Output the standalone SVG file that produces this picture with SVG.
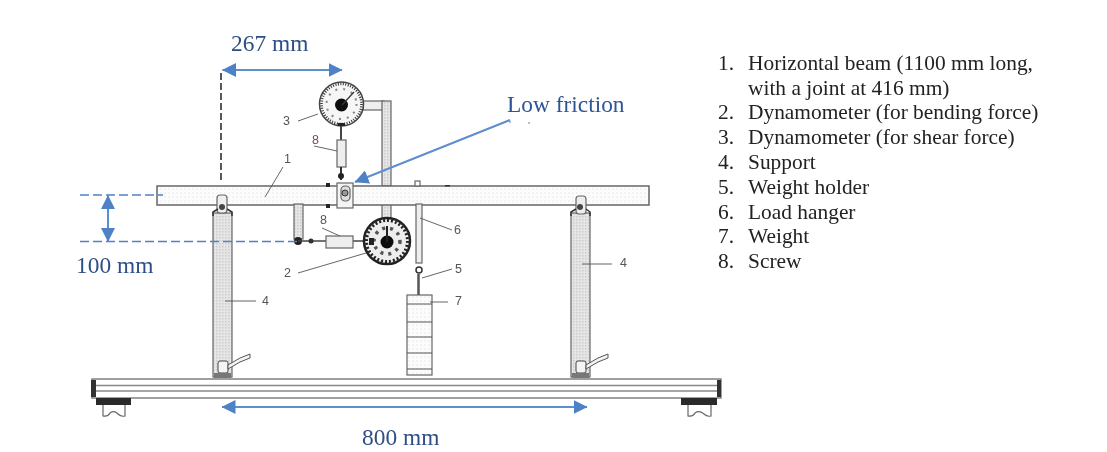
<svg xmlns="http://www.w3.org/2000/svg" width="1107" height="452" viewBox="0 0 1107 452">
<defs>
<pattern id="mesh" width="3" height="3" patternUnits="userSpaceOnUse"><rect width="3" height="3" fill="#e6e6e6"/><rect width="1.500" height="1.500" fill="#cdcdcd"/></pattern>
<pattern id="lite" width="4" height="4" patternUnits="userSpaceOnUse"><rect width="4" height="4" fill="#fcfcfc"/><rect width="2" height="2" fill="#f3f3f3"/></pattern>
<marker id="ah" viewBox="0 0 14 14" refX="13.500" refY="7" markerWidth="14" markerHeight="14" markerUnits="userSpaceOnUse" orient="auto-start-reverse"><path d="M0 0L14 7L0 14Z" fill="#4f81c7"/></marker>
<filter id="soft" x="-5%" y="-5%" width="110%" height="110%"><feGaussianBlur stdDeviation="0.6"/></filter>
<filter id="soft2" x="-5%" y="-5%" width="110%" height="110%"><feGaussianBlur stdDeviation="0.3"/></filter>
</defs>
<style>
.ser{font-family:"Liberation Serif","Times New Roman",serif;}
.list{font-size:21.4px;fill:#222;}
.dim{font-size:23.4px;fill:#2f4f85;}
.num{font-family:"Liberation Sans",Arial,sans-serif;font-size:12.5px;fill:#555;}
.ol{stroke:#666;stroke-width:1.2;fill:none;}
.lead{stroke:#555;stroke-width:.9;fill:none;}
.part{stroke:#666;stroke-width:1.2;}
.blue{stroke:#5b8fd0;stroke-width:2;fill:none;}
.dash{stroke:#4f81c7;stroke-width:1.400;stroke-dasharray:9 4;fill:none;}
</style>
<rect width="1107" height="452" fill="#fff"/>
<g id="apparatus" filter="url(#soft)">
<g id="column-shear">
<rect x="363" y="101" width="21" height="9" fill="#eee" class="part"/>
<rect x="382" y="101" width="9" height="85" fill="url(#mesh)" class="part"/>
<rect x="382" y="204" width="9" height="14" fill="url(#mesh)" class="part"/>
</g>
<g id="beam">
<rect x="157" y="186" width="492" height="19" fill="url(#lite)" stroke="#666" stroke-width="1.500"/>
<rect x="415" y="181" width="5" height="5" fill="#fff" class="part"/>
<rect x="445" y="185" width="5" height="1.500" fill="#333"/>
<rect x="326" y="183" width="4" height="4" fill="#222"/>
<rect x="326" y="204" width="4" height="4" fill="#222"/>
</g>
<g id="joint">
<rect x="337" y="183" width="16" height="25" fill="#f4f4f4" class="part"/>
<rect x="341" y="186" width="9" height="15" rx="4" fill="#ddd" class="part"/>
<circle cx="345" cy="193" r="3" fill="#999" stroke="#333"/>
</g>
<g id="support-left">
<rect x="213" y="213" width="19" height="164" fill="url(#mesh)" class="part"/>
<rect x="217" y="195" width="10" height="18" rx="3" fill="#eee" class="part"/>
<circle cx="222" cy="207" r="3" fill="#444"/>
<path d="M213 216V212L218 209M232 216V212L227 209" stroke="#333" stroke-width="1.500" fill="none"/>
<rect x="218" y="361" width="10" height="12" rx="2" fill="#f4f4f4" stroke="#444"/>
<path d="M228 365L240 358L250 354V358L240 362L228 369Z" fill="#f4f4f4" stroke="#555"/>
<rect x="214" y="373" width="17" height="5" fill="#777"/>
</g>
<g id="support-right">
<rect x="571" y="213" width="19" height="164" fill="url(#mesh)" class="part"/>
<rect x="576" y="196" width="10" height="18" rx="3" fill="#eee" class="part"/>
<circle cx="580" cy="207" r="3" fill="#444"/>
<path d="M571 216V212L576 209M590 216V212L586 209" stroke="#333" stroke-width="1.500" fill="none"/>
<rect x="576" y="361" width="10" height="12" rx="2" fill="#f4f4f4" stroke="#444"/>
<path d="M586 365L598 358L608 354V358L598 362L586 369Z" fill="#f4f4f4" stroke="#555"/>
<rect x="572" y="373" width="17" height="5" fill="#777"/>
</g>
<g id="base">
<rect x="92" y="379" width="629" height="19" fill="#fff" stroke="#777" stroke-width="1.400"/>
<path d="M96 385.500H720M96 391H720" stroke="#888" stroke-width="1.500"/>
<rect x="91" y="380" width="5" height="17" fill="#333"/>
<rect x="717" y="380" width="4" height="17" fill="#333"/>
<rect x="96" y="398" width="35" height="7" fill="#2a2a2a"/>
<rect x="681" y="398" width="36" height="7" fill="#2a2a2a"/>
<path d="M103 405V416Q108 417 110 413Q114 410 118 414Q121 417 125 416V405" class="ol"/>
<path d="M688 405V416Q693 417 695 413Q699 410 704 414Q707 417 711 416V405" class="ol"/>
</g>
<g id="dynamometer-shear">
<line x1="341" y1="125" x2="341" y2="140" stroke="#444" stroke-width="2"/>
<rect x="337" y="140" width="9" height="27" fill="#eee" class="part"/>
<line x1="341" y1="167" x2="341" y2="180" stroke="#333" stroke-width="2"/>
<circle cx="341" cy="176" r="3" fill="#222"/>
<circle cx="341.500" cy="104" r="22" fill="#f6f6f6" stroke="#444" stroke-width="1.500"/>
<circle cx="341.500" cy="104" r="20" fill="none" stroke="#333" stroke-width="2.500" stroke-dasharray="1 1.500"/>
<circle cx="341.500" cy="104" r="15" fill="none" stroke="#888" stroke-width="2" stroke-dasharray="2 6"/>
<circle cx="341.500" cy="105" r="6.500" fill="#111"/>
<line x1="342" y1="105" x2="354" y2="92" stroke="#333" stroke-width="1.200"/>
<rect x="338" y="123" width="7" height="3" fill="#222"/>
</g>
<g id="dynamometer-bending">
<rect x="294" y="204" width="9" height="35" fill="url(#mesh)" class="part"/>
<circle cx="298" cy="241" r="4" fill="#222"/>
<path d="M298 241H326M353 241H368" stroke="#444" stroke-width="1.500"/>
<circle cx="311" cy="241" r="2.500" fill="#333"/>
<rect x="326" y="236" width="27" height="12" fill="#eee" class="part"/>
<circle cx="387" cy="241" r="23" fill="#eee" stroke="#222" stroke-width="2.500"/>
<circle cx="387" cy="241" r="20.500" fill="none" stroke="#222" stroke-width="3" stroke-dasharray="2 2"/>
<circle cx="387" cy="241" r="13" fill="none" stroke="#555" stroke-width="3.500" stroke-dasharray="3 5"/>
<circle cx="387" cy="242" r="6.500" fill="#111"/>
<line x1="387" y1="242" x2="387" y2="226" stroke="#222" stroke-width="2"/>
<rect x="369" y="238" width="5" height="7" fill="#222"/>
</g>
<g id="load-hanger">
<rect x="416" y="204" width="6" height="59" fill="#eee" class="part"/>
<circle cx="419" cy="270" r="3" fill="none" stroke="#333" stroke-width="1.500"/>
<line x1="418.500" y1="274" x2="418.500" y2="295" stroke="#555" stroke-width="2.500"/>
</g>
<g id="weights">
<rect x="407" y="295" width="25" height="80" fill="url(#lite)" class="part"/>
<path d="M407 304H432M407 322H432M407 337H432M407 353H432M407 369H432" stroke="#555" stroke-width="1.200"/>
</g>
<g id="part-labels">
<text class="num" x="283" y="125">3</text><path class="lead" d="M298 121L318 114"/>
<text class="num" x="312" y="144" style="fill:#844">8</text><path class="lead" d="M314 146L337 151"/>
<text class="num" x="284" y="163">1</text><path class="lead" d="M283 167L265 197"/>
<text class="num" x="320" y="224">8</text><path class="lead" d="M322 228L340 236"/>
<text class="num" x="284" y="277">2</text><path class="lead" d="M298 273L366 253"/>
<text class="num" x="454" y="234">6</text><path class="lead" d="M420 218L452 230"/>
<text class="num" x="455" y="273">5</text><path class="lead" d="M422 278L452 269"/>
<text class="num" x="455" y="305">7</text><path class="lead" d="M430 302L448 302"/>
<text class="num" x="262" y="305">4</text><path class="lead" d="M225 301L256 301"/>
<text class="num" x="620" y="267">4</text><path class="lead" d="M582 264L612 264"/>
</g>
</g>
<g id="connectors" filter="url(#soft2)">
<line x1="221" y1="73" x2="221" y2="182" stroke="#111" stroke-width="1.400" stroke-dasharray="7 3"/>
<line class="blue" x1="222.500" y1="70" x2="342" y2="70" marker-start="url(#ah)" marker-end="url(#ah)"/>
<line class="dash" x1="80" y1="195" x2="163" y2="195"/>
<line class="dash" x1="80" y1="241.500" x2="298" y2="241.500"/>
<line class="blue" x1="108" y1="195.500" x2="108" y2="241.500" marker-start="url(#ah)" marker-end="url(#ah)"/>
<line class="blue" x1="222" y1="407" x2="587" y2="407" marker-start="url(#ah)" marker-end="url(#ah)"/>
<line class="blue" x1="510" y1="120" x2="355" y2="182" marker-end="url(#ah)"/>
<circle cx="510" cy="122" r=".7" fill="#2f4f85"/>
<circle cx="529" cy="123" r=".7" fill="#2f4f85"/>
</g>
<g id="dimension-labels" filter="url(#soft2)">
<text class="ser dim" x="231" y="51">267 mm</text>
<text class="ser dim" x="76" y="273">100 mm</text>
<text class="ser dim" x="362" y="445">800 mm</text>
<text class="ser" x="507" y="112" font-size="23.4" fill="#2f5496">Low friction</text>
</g>
<g id="legend" class="ser list" filter="url(#soft2)">
<text x="718" y="70">1.</text><text x="748" y="70">Horizontal beam (1100 mm long,</text>
<text x="748" y="95">with a joint at 416 mm)</text>
<text x="718" y="119">2.</text><text x="748" y="119">Dynamometer (for bending force)</text>
<text x="718" y="144">3.</text><text x="748" y="144">Dynamometer (for shear force)</text>
<text x="718" y="169">4.</text><text x="748" y="169">Support</text>
<text x="718" y="194">5.</text><text x="748" y="194">Weight holder</text>
<text x="718" y="219">6.</text><text x="748" y="219">Load hanger</text>
<text x="718" y="243">7.</text><text x="748" y="243">Weight</text>
<text x="718" y="268">8.</text><text x="748" y="268">Screw</text>
</g>
</svg>
